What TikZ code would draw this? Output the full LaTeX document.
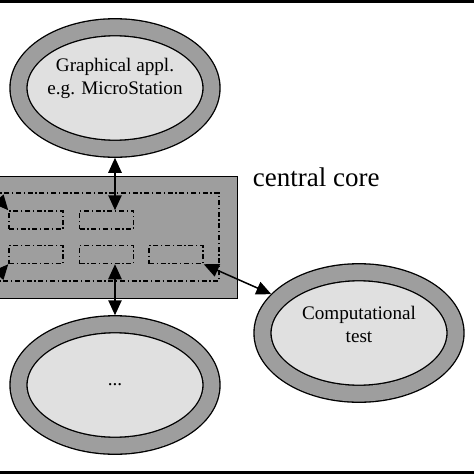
\documentclass[tikz,border=0pt]{standalone}
\usepackage{fontspec}
\setmainfont{Liberation Serif}
\usetikzlibrary{arrows.meta,positioning,shapes.geometric}
\tikzset{
ring_oval/.style={
	% The shape:
	ellipse,
	% The size:
	minimum width=115.8pt,
	minimum height=72.9pt,
	% The border: a grey ring between two black lines
	draw=black,
	line width=0.8pt,
	double=black!38,
	double distance=9.4pt,
	outer sep=5.4pt,
	% The filling:
	fill=black!12
},
core_box/.style={
	% The shape:
	rectangle,
	% The size:
	minimum width=154.2pt,
	minimum height=73.2pt,
	% The border:
	draw=black,
	line width=0.6pt,
	% The filling:
	fill=black!38
},
part_box/.style={
	% The shape:
	rectangle,
	% The size:
	minimum width=#1,
	minimum height=10.8pt,
	% The border:
	draw=black,
	line width=0.9pt,
	dash pattern=on 3pt off 1.6pt on 0.8pt off 1.6pt
},
part_box/.default=32.4pt,
oval_text/.style={
	align=center,
	font=\fontsize{11.5}{13.8}\selectfont
},
link/.style={
	{Triangle[length=9pt,width=8pt]}-{Triangle[length=9pt,width=8pt]},
	line width=0.9pt
},
half link/.style={
	-{Triangle[length=9pt,width=8pt]},
	line width=0.9pt
}
}
\begin{document}
\begin{tikzpicture}[x=0.6pt,y=-0.6pt]
	\useasboundingbox (0,0) rectangle (474,474);
	% black bars
	\fill[black] (0,0) rectangle (474,3);
	\fill[black] (0,471) rectangle (474,474);
	% central core
	\node[core_box] (core) at (108.5,237) {};
	\node[part_box=143.4pt, minimum height=52.8pt] (frame) at (99.5,237) {};
	\node[part_box] (b11) at (36,220) {};
	\node[part_box] (b21) at (106.5,220) {};
	\node[part_box] (b12) at (36,254.5) {};
	\node[part_box] (b22) at (106.5,254.5) {};
	\node[part_box] (b32) at (176,254.5) {};
	\node[anchor=base west, font=\fontsize{16.2}{19}\selectfont] (corelabel) at (247,186) {central core};
	% outer ovals
	\node[ring_oval] (graph) at (115,88) {};
	\node[oval_text] (graphtxt) at (115,78) {Graphical appl.\\e.g. MicroStation};
	\node[ring_oval] (comp) at (359,333) {};
	\node[oval_text] (comptxt) at (359,324) {Computational\\test};
	\node[ring_oval] (other) at (115,385) {};
	\node[oval_text] (othertxt) at (115,385) {...};
	% links
	\coordinate (in1) at (-20,178);
	\coordinate (in2) at (-20,296);
	\draw[link] (graph.south) -- (graph.south |- b21.north);
	\draw[link] (other.north |- b22.south) -- (other.north);
	\draw[link] (b32.south east) -- (comp);
	\draw[half link] (in1) -- (b11.north west);
	\draw[half link] (in2) -- (b12.south west);
\end{tikzpicture}
\end{document}
